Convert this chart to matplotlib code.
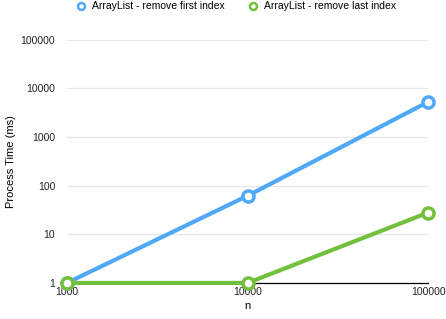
import matplotlib
matplotlib.use("Agg")
import matplotlib.pyplot as plt
from matplotlib.ticker import FixedLocator, NullLocator

plt.rcParams['font.family'] = ['Liberation Sans', 'DejaVu Sans']

n_values = [1000, 10000, 100000]
first_index = [1, 62, 5300]
last_index = [1, 1, 28]
series_names = ["ArrayList - remove first index", "ArrayList - remove last index"]
y_ticks = [1, 10, 100, 1000, 10000, 100000]
y_tick_labels = ["1", "10", "100", "1000", "10000", "100000"]
x_tick_labels = ["1000", "10000", "100000"]

blue = '#4FA8F8'
green = '#73C03C'

fig = plt.figure(figsize=(4.46, 3.19), dpi=100)
ax = fig.add_axes([0.150, 0.113, 0.810, 0.762])
ax.set_xscale('log')
ax.set_yscale('log')
ax.set_xlim(1000, 100000)
ax.set_ylim(1, 100000)

for vals, col, name in [(first_index, blue, series_names[0]), (last_index, green, series_names[1])]:
    ax.plot(n_values, vals, color=col, lw=3, marker='o', ms=8, mfc='white', mec=col, mew=2.5,
            clip_on=False, zorder=3, label=name)

ax.yaxis.set_major_locator(FixedLocator(y_ticks))
ax.set_yticklabels(y_tick_labels)
ax.yaxis.set_minor_locator(NullLocator())
ax.xaxis.set_major_locator(FixedLocator(n_values))
ax.set_xticklabels(x_tick_labels)
ax.xaxis.set_minor_locator(NullLocator())
ax.tick_params(axis='both', length=0, labelsize=7.5, colors='#222222')
ax.tick_params(axis='y', pad=8.5)
ax.tick_params(axis='x', pad=3)
ax.grid(axis='y', color='#E6E6E6', lw=0.9)
ax.set_axisbelow(True)
for s in ['top', 'right', 'left']:
    ax.spines[s].set_visible(False)
ax.spines['bottom'].set_color('black')
ax.spines['bottom'].set_linewidth(0.9)

ax.set_xlabel('n', fontsize=8, labelpad=3)
ax.set_ylabel('Process Time (ms)', fontsize=8, labelpad=3.5)

leg = fig.legend(loc='upper center', bbox_to_anchor=(0.529, 1.025), ncol=2, frameon=False,
                 fontsize=7.5, handlelength=1.0, handletextpad=0.6, columnspacing=2.2)
for h in leg.legend_handles:
    h.set_linestyle('none')
    h.set_markersize(5)
    h.set_markeredgewidth(1.8)

fig.savefig('out.png', dpi=100)
